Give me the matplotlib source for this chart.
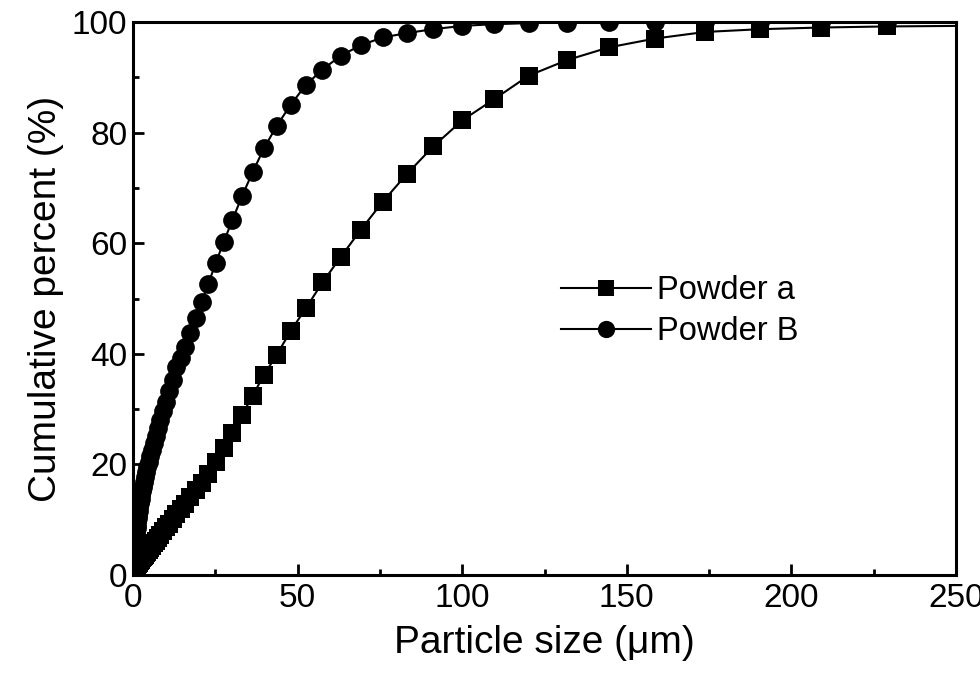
import matplotlib
matplotlib.use("Agg")
import matplotlib.pyplot as plt
from matplotlib.ticker import MultipleLocator

plt.rcParams['font.family'] = ['Liberation Sans', 'DejaVu Sans']

# Particle size bins (um)
size_um = [0.40, 0.44, 0.48, 0.52, 0.58, 0.63, 0.69, 0.76, 0.83, 0.91,
           1.00, 1.10, 1.20, 1.32, 1.45, 1.58, 1.74, 1.91, 2.09, 2.29,
           2.51, 2.75, 3.02, 3.31, 3.63, 3.98, 4.37, 4.79, 5.25, 5.75,
           6.31, 6.92, 7.59, 8.32, 9.12, 10.0, 10.96, 12.02, 13.18, 14.45,
           15.85, 17.38, 19.05, 20.89, 22.91, 25.12, 27.54, 30.20, 33.11, 36.31,
           39.81, 43.65, 47.86, 52.48, 57.54, 63.10, 69.18, 75.86, 83.18, 91.20,
           100.0, 109.6, 120.2, 131.8, 144.5, 158.5, 173.8, 190.5, 208.9, 229.1,
           275.4]

powder_a = [0.2, 0.25, 0.3, 0.35, 0.4, 0.5, 0.6, 0.75, 0.9, 1.05,
            1.2, 1.4, 1.55, 1.75, 1.9, 2.05, 2.2, 2.35, 2.5, 2.65,
            2.8, 3.0, 3.2, 3.4, 3.65, 3.9, 4.2, 4.5, 4.9, 5.3,
            5.7, 6.2, 6.7, 7.3, 7.9, 8.6, 9.3, 10.1, 11.0, 11.9,
            12.9, 14.1, 15.3, 16.7, 18.2, 20.5, 22.9, 25.7, 28.9, 32.4,
            36.2, 39.8, 44.1, 48.2, 52.9, 57.5, 62.4, 67.5, 72.5, 77.5,
            82.2, 86.0, 90.3, 93.1, 95.4, 97.0, 98.2, 98.7, 99.0, 99.2,
            99.4]

powder_b = [2.4, 3.0, 3.5, 4.0, 4.5, 5.0, 5.5, 6.1, 6.7, 7.3,
            7.9, 8.5, 9.1, 9.7, 10.3, 10.9, 11.6, 12.3, 13.0, 13.7,
            14.4, 15.2, 16.0, 16.8, 17.7, 18.6, 19.5, 20.5, 21.5, 22.6,
            23.8, 25.1, 26.5, 28.0, 29.6, 31.3, 33.2, 35.3, 37.6, 39.2,
            41.3, 43.8, 46.5, 49.4, 52.7, 56.4, 60.2, 64.2, 68.5, 72.8,
            77.2, 81.2, 85.0, 88.6, 91.4, 93.9, 95.8, 97.2, 98.0, 98.7,
            99.3, 99.6, 99.8, 99.9, 100.0, 100.0, 100.0, 100.0, 100.0, 100.0,
            100.0]

x_ticks = [0, 50, 100, 150, 200, 250]
y_ticks = [0, 20, 40, 60, 80, 100]

fig = plt.figure(figsize=(9.8, 6.73), dpi=100)
ax = fig.add_axes([133/980, 1-575/673, (956-133)/980, (575-22)/673])

ax.plot(size_um, powder_a, '-', color='black', lw=1.5, marker='s', ms=12.5,
        mec='black', mfc='black', mew=0, label='Powder a')
ax.plot(size_um, powder_b, '-', color='black', lw=1.5, marker='o', ms=13.5,
        mec='black', mfc='black', mew=0, label='Powder B')

ax.set_xlim(0, 250)
ax.set_ylim(0, 100)
ax.set_xticks(x_ticks)
ax.set_yticks(y_ticks)
ax.xaxis.set_minor_locator(MultipleLocator(25))
ax.yaxis.set_minor_locator(MultipleLocator(10))
ax.tick_params(which='major', direction='in', length=8, width=2, labelsize=24, pad=6)
ax.tick_params(which='minor', direction='in', length=4, width=2)
ax.tick_params(top=False, right=False)
ax.tick_params(axis='y', pad=4)
for s in ax.spines.values():
    s.set_linewidth(2.2)

ax.set_xlabel('Particle size (\u03bcm)', fontsize=28, labelpad=8)
ax.set_ylabel('Cumulative percent (%)', fontsize=28, labelpad=6)

leg = ax.legend(loc='center left', bbox_to_anchor=(0.5, 0.477), frameon=False,
                fontsize=23.5, handlelength=2.75, handletextpad=0.2,
                labelspacing=0.3, borderpad=0, markerscale=0.92)

fig.savefig('out.png', dpi=100)
